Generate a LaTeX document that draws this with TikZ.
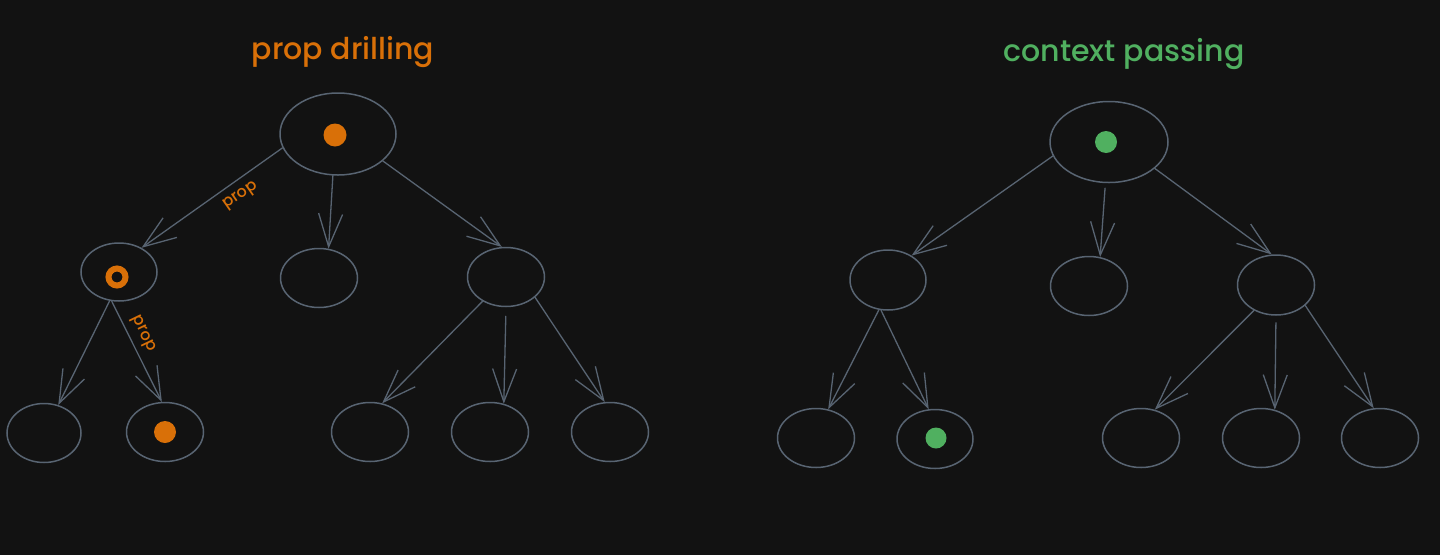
\documentclass[tikz,border=0pt]{standalone}
\usepackage{fontspec}
\setmainfont{Poppins}
\newfontfamily\handfont{Poppins Medium}
\usetikzlibrary{shapes.geometric, arrows.meta, positioning}
\definecolor{bgcol}{HTML}{121212}
\definecolor{linecol}{RGB}{88,100,114}
\definecolor{propcol}{RGB}{217,112,8}
\definecolor{ctxcol}{RGB}{80,176,96}

\begin{document}
\begin{tikzpicture}[>={Straight Barb[length=33pt,width=24pt]}, x=1pt, y=-1pt,
  tree/.style={draw=linecol, line width=1.5pt, ellipse, inner sep=0pt},
  leaf/.style={tree, minimum width=77pt, minimum height=59pt},
  edge/.style={->, draw=linecol, line width=1.3pt, line cap=round, line join=round},
  title/.style={font=\fontsize{30}{34}\selectfont\handfont},
  tag/.style={text=propcol, font=\fontsize{16}{18}\selectfont\handfont, inner sep=0pt}]
  \fill[bgcol] (0,0) rectangle (1440,555);
  \useasboundingbox (0,0) rectangle (1440,555);

  % prop drilling
  \node[title, text=propcol] (ltitle) at (343,52) {prop drilling};
  \node[tree, minimum width=116pt, minimum height=82pt] (lroot) at (338,134) {};
  \node[leaf, minimum width=76pt, minimum height=58pt] (la) at (119,272) {};
  \node[leaf] (lb) at (319,278) {};
  \node[leaf] (lc) at (506,277) {};
  \node[leaf, minimum width=74pt] (laa) at (44,433) {};
  \node[leaf] (lab) at (165,432) {};
  \node[leaf] (lca) at (370,432) {};
  \node[leaf] (lcb) at (490,432) {};
  \node[leaf] (lcc) at (610,432) {};

  \fill[propcol] (335,135) circle (11.5pt);
  \draw[propcol, line width=6pt] (117,277) circle (8.5pt);
  \fill[propcol] (165,432) circle (11pt);

  \draw[edge] (lroot.194) -- (la.47);
  \draw[edge] (lroot.263) -- (lb.72);
  \draw[edge] (lroot.329) -- (lc.98);
  \draw[edge] (la.252) -- (laa.63);
  \draw[edge] (la.256) -- (lab.96);
  \draw[edge] (lc.226) -- (lca.67);
  \draw[edge, shorten <=9pt] (lc.270) -- (lcb.64);
  \draw[edge] (lc.325) -- (lcc.100);

  \node[tag, rotate=35] (tag1) at (241,196) {prop};
  \node[tag, rotate=-64] (tag2) at (143,334) {prop};

  % context passing
  \node[title, text=ctxcol] (rtitle) at (1124,54) {context passing};
  \node[tree, minimum width=118pt, minimum height=81pt] (rroot) at (1109,142) {};
  \node[leaf, minimum width=76pt, minimum height=60pt] (ra) at (888,280) {};
  \node[leaf] (rb) at (1089,286) {};
  \node[leaf, minimum height=60pt] (rc) at (1276,285) {};
  \node[leaf] (raa) at (816,438) {};
  \node[leaf, minimum width=76pt] (rab) at (935,439) {};
  \node[leaf] (rca) at (1141,438) {};
  \node[leaf] (rcb) at (1261,438) {};
  \node[leaf] (rcc) at (1380,438) {};

  \fill[ctxcol] (1106,142) circle (11pt);
  \fill[ctxcol] (936,438) circle (10.5pt);

  \draw[edge] (rroot.194) -- (ra.46);
  \draw[edge, shorten <=5pt] (rroot.265) -- (rb.69);
  \draw[edge] (rroot.330) -- (rc.98);
  \draw[edge] (ra.253) -- (raa.67);
  \draw[edge] (ra.257) -- (rab.102);
  \draw[edge] (rc.229) -- (rca.64);
  \draw[edge, shorten <=7pt] (rc.270) -- (rcb.64);
  \draw[edge] (rc.325) -- (rcc.102);
\end{tikzpicture}
\end{document}
